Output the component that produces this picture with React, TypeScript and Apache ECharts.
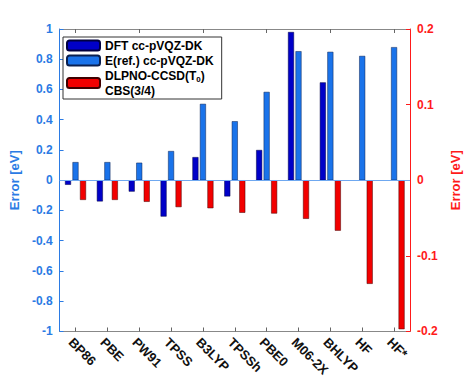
import React, { useEffect, useRef } from "react";
import * as echarts from "echarts";

const categories = ["BP86", "PBE", "PW91", "TPSS", "B3LYP", "TPSSh", "PBE0", "M06-2X", "BHLYP", "HF", "HF*"];
const dftValues = [-0.03, -0.14, -0.075, -0.24, 0.153, -0.107, 0.2, 0.98, 0.647, null, null];
const refValues = [0.12, 0.12, 0.116, 0.193, 0.505, 0.39, 0.584, 0.853, 0.849, 0.822, 0.88];
const dlpnoValues = [-0.026, -0.026, -0.0285, -0.0355, -0.037, -0.043, -0.044, -0.051, -0.0667, -0.137, -0.197];
const leftTicks = { min: -1, max: 1, interval: 0.2 };
const rightTicks = { min: -0.2, max: 0.2, interval: 0.1 };

const FONT = "Liberation Sans";
const BLUE_AXIS = "#2b7be4";
const RED_AXIS = "#ff1a1a";

export default function App() {
  const ref = useRef<HTMLDivElement>(null);
  useEffect(() => {
    const chart = echarts.init(ref.current!, null, { renderer: "svg" });
    const fmt = (v: number) => {
      const r = Math.round(v * 10) / 10;
      return String(Math.abs(r) < 1e-9 ? 0 : r);
    };
    chart.setOption({
      animation: false,
      textStyle: { fontFamily: FONT },
      grid: { left: 55, right: 64, top: 29, bottom: 46, show: false },
      legend: {
        orient: "vertical",
        left: 63,
        top: 37,
        width: 144,
        padding: [1, 8, 1, 3],
        itemGap: 0,
        itemWidth: 33,
        itemHeight: 10,
        borderColor: "#333",
        borderWidth: 1,
        backgroundColor: "#fff",
        selectedMode: false,
        textStyle: {
          fontFamily: FONT,
          fontWeight: "bold",
          fontSize: 12,
          color: "#000",
          lineHeight: 15,
          rich: {
            sub: { fontSize: 8, fontWeight: "bold", fontFamily: FONT, verticalAlign: "bottom", padding: [6, 0, 0, 0], lineHeight: 15 },
          },
        },
        formatter: (name: string) =>
          name === "DLPNO" ? "DLPNO-CCSD(T{sub|0})\nCBS(3/4)" : name,
        data: ["DFT cc-pVQZ-DK", "E(ref.) cc-pVQZ-DK", "DLPNO"],
      },
      xAxis: [
        {
          type: "category",
          data: categories,
          position: "bottom",
          axisLine: { show: true, onZero: false, lineStyle: { color: "#888", width: 1 } },
          axisTick: { show: true, inside: true, alignWithLabel: true, length: 4, lineStyle: { color: "#666" } },
          axisLabel: {
            rotate: -45,
            interval: 0,
            margin: 4,
            verticalAlign: "top",
            color: "#111",
            fontWeight: "bold",
            fontSize: 13,
            fontFamily: FONT,
          },
        },
        {
          type: "category",
          data: categories,
          position: "top",
          axisLine: { show: true, onZero: false, lineStyle: { color: "#888", width: 1 } },
          axisTick: { show: true, inside: true, alignWithLabel: true, length: 4, lineStyle: { color: "#666" } },
          axisLabel: { show: false },
        },
      ],
      yAxis: [
        {
          type: "value",
          position: "left",
          min: leftTicks.min,
          max: leftTicks.max,
          interval: leftTicks.interval,
          name: "Error [eV]",
          nameLocation: "middle",
          nameGap: 32,
          nameTextStyle: { color: BLUE_AXIS, fontWeight: "bold", fontSize: 13, fontFamily: FONT },
          axisLine: { show: true, lineStyle: { color: BLUE_AXIS, width: 1 } },
          axisTick: { show: true, inside: true, length: 4, lineStyle: { color: BLUE_AXIS } },
          axisLabel: { color: BLUE_AXIS, fontWeight: "bold", fontSize: 12, fontFamily: FONT, margin: 7, formatter: fmt },
          splitLine: { show: false },
        },
        {
          type: "value",
          position: "right",
          min: rightTicks.min,
          max: rightTicks.max,
          interval: rightTicks.interval,
          name: "Error [eV]",
          nameLocation: "middle",
          nameGap: 32,
          nameRotate: 90,
          nameTextStyle: { color: RED_AXIS, fontWeight: "bold", fontSize: 13, fontFamily: FONT },
          axisLine: { show: true, lineStyle: { color: RED_AXIS, width: 1 } },
          axisTick: { show: true, inside: true, length: 4, lineStyle: { color: RED_AXIS } },
          axisLabel: { color: RED_AXIS, fontWeight: "bold", fontSize: 12, fontFamily: FONT, margin: 7, formatter: fmt },
          splitLine: { show: false },
        },
      ],
      series: [
        {
          name: "DFT cc-pVQZ-DK",
          type: "bar",
          yAxisIndex: 0,
          data: dftValues,
          barWidth: 6,
          barGap: "25%",
          itemStyle: { color: "#0000c8", borderColor: "#000040", borderWidth: 0.5 },
          markLine: {
            silent: true,
            symbol: "none",
            label: { show: false },
            lineStyle: { color: "#6fa8f0", type: "solid", width: 1 },
            data: [{ yAxis: 0 }],
          },
        },
        {
          name: "E(ref.) cc-pVQZ-DK",
          type: "bar",
          yAxisIndex: 0,
          data: refValues,
          barWidth: 6,
          barGap: "25%",
          itemStyle: { color: "#1a73ea", borderColor: "#0a2050", borderWidth: 0.5 },
        },
        {
          name: "DLPNO",
          type: "bar",
          yAxisIndex: 1,
          data: dlpnoValues,
          barWidth: 6,
          barGap: "25%",
          itemStyle: { color: "#f20000", borderColor: "#400000", borderWidth: 0.5 },
        },
      ],
    });
    return () => chart.dispose();
  }, []);
  return <div ref={ref} style={{ width: 474, height: 379, position: "absolute", left: 0, top: 0, background: "#fff" }} />;
}
